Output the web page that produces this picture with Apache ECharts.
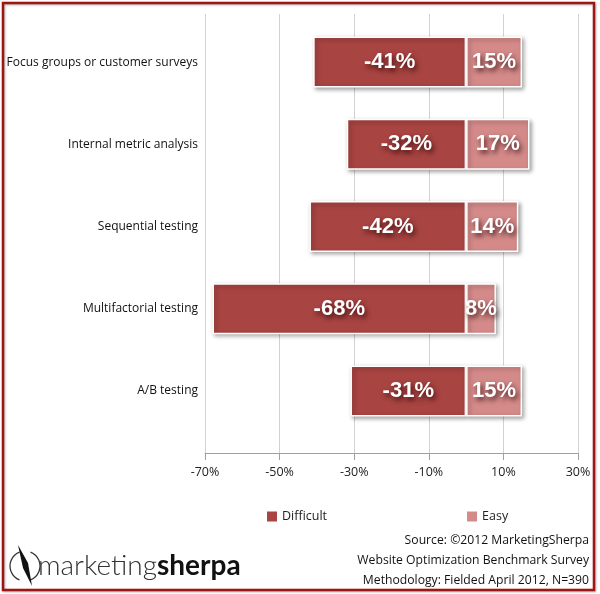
<!DOCTYPE html>
<html>
<head>
<meta charset="utf-8">
<script src="https://cdn.jsdelivr.net/npm/echarts@6/dist/echarts.min.js"></script>
<style>
html,body{margin:0;padding:0;background:#fff;}
#chart{width:600px;height:594px;}
</style>
</head>
<body>
<div id="chart"></div>
<script>
const categories = ['Focus groups or customer surveys', 'Internal metric analysis', 'Sequential testing', 'Multifactorial testing', 'A/B testing'];
const difficult = [-41, -32, -42, -68, -31];
const easy = [15, 17, 14, 8, 15];
const axisMin = -70, axisMax = 30, axisStep = 20;
const sourceLines = ['Source: \u00A92012 MarketingSherpa', 'Website Optimization Benchmark Survey', 'Methodology: Fielded April 2012, N=390'];

const chart = echarts.init(document.getElementById('chart'), null, {renderer: 'canvas'});
const font = '"Open Sans", "Noto Sans", sans-serif';
const labelStyle = {
  show: true, position: 'inside', formatter: p => p.value + '%',
  color: '#fff', fontFamily: '"Liberation Sans", Arial, sans-serif', fontWeight: 'bold', fontSize: 22,
  textShadowColor: 'rgba(40,0,0,0.8)', textShadowBlur: 5, textShadowOffsetX: 2, textShadowOffsetY: 3
};
const barItem = c => ({
  color: c, borderColor: '#fff', borderWidth: 1.5,
  shadowColor: 'rgba(0,0,0,0.35)', shadowBlur: 4, shadowOffsetX: 2, shadowOffsetY: 2
});

chart.setOption({
  animation: false,
  backgroundColor: '#fff',
  grid: [
    {left: 205, top: 14, width: 373, height: 439},
    {left: 205, top: 21, width: 373, height: 411}
  ],
  xAxis: [
    {gridIndex: 0, type: 'value', min: axisMin, max: axisMax, interval: axisStep,
     splitLine: {show: true, lineStyle: {color: '#d2d2d2', width: 1}},
     axisLine: {show: true, lineStyle: {color: '#a0a0a0'}},
     axisTick: {show: true, length: 7, lineStyle: {color: '#a0a0a0'}},
     axisLabel: {formatter: '{value}%', color: '#222', fontFamily: font, fontSize: 12.5, margin: 13}},
    {gridIndex: 1, type: 'value', min: axisMin, max: axisMax, show: false}
  ],
  yAxis: [
    {gridIndex: 0, type: 'value', show: false},
    {gridIndex: 1, type: 'category', inverse: true, data: categories,
     axisLine: {show: false}, axisTick: {show: false}, splitLine: {show: false},
     axisLabel: {color: '#111', fontFamily: font, fontSize: 12, margin: 7}}
  ],
  legend: {
    data: ['Difficult', 'Easy'], left: 262, top: 505, itemWidth: 10, itemHeight: 10, itemGap: 140,
    icon: 'rect', textStyle: {color: '#222', fontFamily: font, fontSize: 12.5},
    itemStyle: {borderWidth: 0, shadowBlur: 0, shadowOffsetX: 0, shadowOffsetY: 0}
  },
  series: [
    {name: 'Difficult', type: 'bar', xAxisIndex: 1, yAxisIndex: 1, stack: 'a', barWidth: 51,
     data: difficult, itemStyle: barItem('#A84442'), label: labelStyle},
    {name: 'Easy', type: 'bar', xAxisIndex: 1, yAxisIndex: 1, stack: 'a', barWidth: 51,
     data: easy, itemStyle: barItem('#D48A89'), label: labelStyle}
  ],
  graphic: [
    {type: 'rect', shape: {x: 3, y: 3, width: 591, height: 587}, silent: true,
     style: {fill: null, stroke: '#A01414', lineWidth: 2.5, shadowColor: 'rgba(0,0,0,0.3)', shadowBlur: 2, shadowOffsetX: 1, shadowOffsetY: 1}},
    ...sourceLines.map((t, i) => ({type: 'text', x: 589, y: 541 + i * 20, silent: true,
      style: {text: t, align: 'right', verticalAlign: 'middle', fill: '#111', font: '12.2px ' + font}})),
    {type: 'text', x: 38, y: 566, silent: true,
     style: {text: '{a|marketing}{b|sherpa}', verticalAlign: 'middle',
       rich: {a: {fontFamily: 'Lato, "Open Sans", sans-serif', fontWeight: 300, fontSize: 28, fill: '#333'},
              b: {fontFamily: 'Lato, "Open Sans", sans-serif', fontWeight: 'bold', fontSize: 28, fill: '#111'}}}},
    {type: 'arc', shape: {cx: 25, cy: 566, r: 15, startAngle: Math.PI * 0.62, endAngle: Math.PI * 1.38}, silent: true,
     style: {stroke: '#333', lineWidth: 1.3, fill: null}},
    {type: 'arc', shape: {cx: 25, cy: 566, r: 15, startAngle: -Math.PI * 0.38, endAngle: Math.PI * 0.38}, silent: true,
     style: {stroke: '#333', lineWidth: 1.3, fill: null}},
    {type: 'polygon', shape: {points: [[18, 545], [28, 563], [32, 586], [23, 568]]}, silent: true,
     style: {fill: '#111'}}
  ]
});
</script>
</body>
</html>
